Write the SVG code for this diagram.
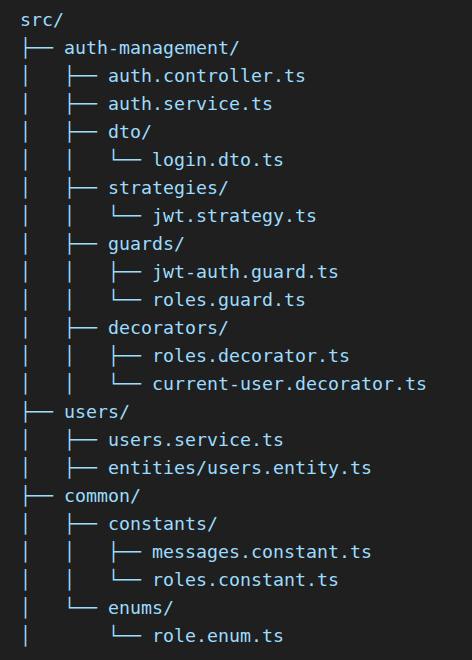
<svg xmlns="http://www.w3.org/2000/svg" width="472" height="660" viewBox="0 0 472 660">
<style>
text{font-family:"DejaVu Sans Mono","Liberation Mono",monospace;font-size:18.27px;fill:#9cdcfe;white-space:pre}
</style>
<rect x="0" y="0" width="472" height="660" fill="#1f1f1f"/>
<g id="tree" transform="translate(0,1)">
<g id="l0"><text x="20" y="25">src/</text></g>
<g id="l1"><text x="20" y="53">├── auth-management/</text></g>
<g id="l2"><text x="20" y="81">│   ├── auth.controller.ts</text></g>
<g id="l3"><text x="20" y="109">│   ├── auth.service.ts</text></g>
<g id="l4"><text x="20" y="137">│   ├── dto/</text></g>
<g id="l5"><text x="20" y="165">│   │   └── login.dto.ts</text></g>
<g id="l6"><text x="20" y="193">│   ├── strategies/</text></g>
<g id="l7"><text x="20" y="221">│   │   └── jwt.strategy.ts</text></g>
<g id="l8"><text x="20" y="249">│   ├── guards/</text></g>
<g id="l9"><text x="20" y="277">│   │   ├── jwt-auth.guard.ts</text></g>
<g id="l10"><text x="20" y="305">│   │   └── roles.guard.ts</text></g>
<g id="l11"><text x="20" y="333">│   ├── decorators/</text></g>
<g id="l12"><text x="20" y="361">│   │   ├── roles.decorator.ts</text></g>
<g id="l13"><text x="20" y="389">│   │   └── current-user.decorator.ts</text></g>
<g id="l14"><text x="20" y="417">├── users/</text></g>
<g id="l15"><text x="20" y="445">│   ├── users.service.ts</text></g>
<g id="l16"><text x="20" y="473">│   ├── entities/users.entity.ts</text></g>
<g id="l17"><text x="20" y="501">├── common/</text></g>
<g id="l18"><text x="20" y="529">│   ├── constants/</text></g>
<g id="l19"><text x="20" y="557">│   │   ├── messages.constant.ts</text></g>
<g id="l20"><text x="20" y="585">│   │   └── roles.constant.ts</text></g>
<g id="l21"><text x="20" y="613">│   └── enums/</text></g>
<g id="l22"><text x="20" y="641">│       └── role.enum.ts</text></g>
</g>
</svg>
